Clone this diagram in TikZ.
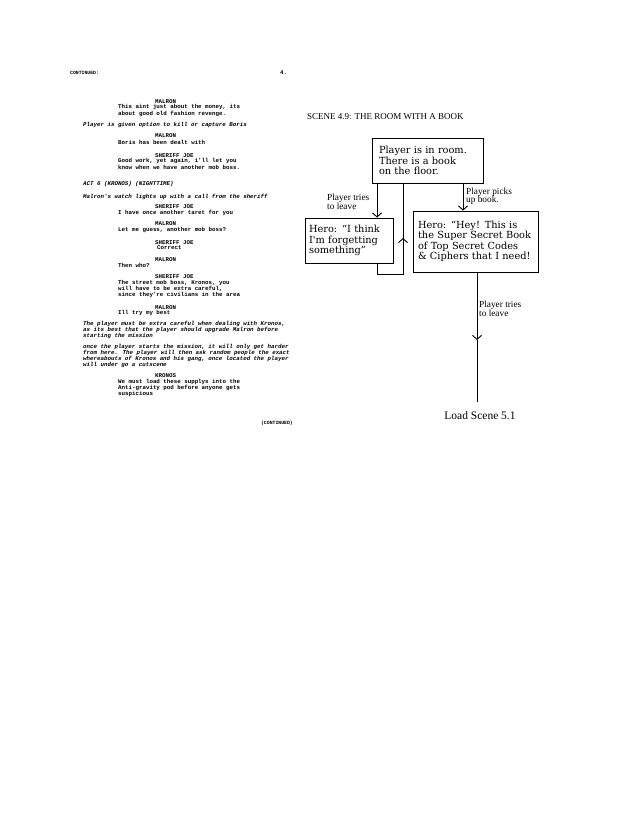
\documentclass[tikz,border=0pt]{standalone}
\usepackage{fontspec}
\setmainfont{Liberation Serif}
\newfontfamily\monofam{Liberation Mono}
\newfontfamily\boxfam{DejaVu Serif}
\usetikzlibrary{arrows.meta}

\tikzset{
  scr/.style={anchor=west,inner sep=0pt,font=\monofam\bfseries\fontsize{5.8}{6}\selectfont},
  act/.style={scr,font=\monofam\bfseries\itshape\fontsize{5.8}{6}\selectfont},
  who/.style={scr,font=\monofam\bfseries\fontsize{5.8}{6}\selectfont},
  box/.style={draw,line width=0.9pt,inner sep=0pt,font=\boxfam\fontsize{9.8}{10.5}\selectfont,align=left},
  lbl/.style={anchor=north west,inner sep=0pt,align=left,font=\fontsize{9.3}{8.6}\selectfont},
  flow/.style={line width=0.9pt},
  tip/.style={flow,-{Straight Barb[length=4pt,width=9pt]}}
}

\begin{document}
\begin{tikzpicture}[x=1pt,y=1pt,yscale=-1]
  \useasboundingbox (0,0) rectangle (638,826);

  % script page
  \node[scr,font=\monofam\bfseries\fontsize{4.8}{5}\selectfont] (cont) at (70,73) {CONTINUED:};
  \node[scr] (pg) at (280,73) {4.};
  \node[who] (n1) at (155,102) {MALRON};
  \node[scr] (d1) at (118,107) {This aint just about the money, its};
  \node[scr] (d2) at (118,114) {about good old fashion revenge.};
  \node[act] (a1) at (83,125) {Player is given option to kill or capture Boris};
  \node[who] (n2) at (155,136) {MALRON};
  \node[scr] (d3) at (118,142) {Boris has been dealt with};
  \node[who] (n3) at (155,156) {SHERIFF JOE};
  \node[scr] (d4) at (118,161) {Good work, yet again, i'll let you};
  \node[scr] (d5) at (118,167) {know when we have another mob boss.};
  \node[act] (a2) at (83,184) {ACT 6 (KRONOS) (NIGHTTIME)};
  \node[act] (a3) at (83,197) {Malron's watch lights up with a call from the sheriff};
  \node[who] (n4) at (155,207) {SHERIFF JOE};
  \node[scr] (d6) at (118,213) {I have once another taret for you};
  \node[who] (n5) at (155,224) {MALRON};
  \node[scr] (d7) at (118,230) {Let me guess, another mob boss?};
  \node[who] (n6) at (155,243) {SHERIFF JOE};
  \node[scr] (d8) at (157,248) {Correct};
  \node[who] (n7) at (155,260) {MALRON};
  \node[scr] (d9) at (118,265) {Then who?};
  \node[who] (n8) at (155,277) {SHERIFF JOE};
  \node[scr] (d10) at (118,283) {The street mob boss, Kronos, you};
  \node[scr] (d11) at (118,289) {will have to be extra careful,};
  \node[scr] (d12) at (118,295) {since they're civilians in the area};
  \node[who] (n9) at (155,308) {MALRON};
  \node[scr] (d13) at (118,313) {Ill try my best};
  \node[act] (a4) at (83,324) {The player must be extra careful when dealing with Kronos,};
  \node[act] (a5) at (83,330) {as its best that the player should upgrade Malron before};
  \node[act] (a6) at (83,336) {starting the mission};
  \node[act] (a7) at (83,347) {once the player starts the mission, it will only get harder};
  \node[act] (a8) at (83,353) {from here. The player will then ask random people the exact};
  \node[act] (a9) at (83,359) {whereabouts of Kronos and his gang, once located the player};
  \node[act] (a10) at (83,365) {will under go a cutscene};
  \node[who] (n10) at (155,376) {KRONOS};
  \node[scr] (d14) at (118,382) {We must load these supplys into the};
  \node[scr] (d15) at (118,388) {Anti-gravity pod before anyone gets};
  \node[scr] (d16) at (118,394) {suspicious};
  \node[scr,anchor=east,font=\monofam\bfseries\fontsize{4.8}{5}\selectfont] (cont2) at (293,423) {(CONTINUED)};

  % scene flow
  \node[anchor=west,inner sep=0pt,font=\fontsize{9}{10}\selectfont] (title) at (307,117) {SCENE 4.9: THE ROOM WITH A BOOK};
  \node[box,minimum width=111,minimum height=45,text width=97] (room) at (427.5,160.5) {Player is in room.\\There is a book\\on the floor.};
  \node[box,minimum width=88,minimum height=45,text width=80] (think) at (349,240.5) {Hero: “I think\\I'm forgetting\\something”};
  \node[box,minimum width=125,minimum height=61,text width=115] (book) at (475.5,241.5) {Hero: “Hey! This is\\the Super Secret Book\\of Top Secret Codes\\\& Ciphers that I need!};
  \node[anchor=north,inner sep=0pt,font=\fontsize{11.5}{12}\selectfont] (load) at (480,411) {Load Scene 5.1};

  \coordinate (leaveA) at (room.south -| 377,0);
  \coordinate (leaveB) at (think.north -| 377,0);
  \coordinate (backA) at (think.south -| 377,0);
  \coordinate (backB) at (377,274);
  \coordinate (backC) at (403,274);
  \coordinate (backD) at (403,240);
  \coordinate (backE) at (room.south -| 403,0);
  \coordinate (pickA) at (room.south -| 463,0);
  \coordinate (pickB) at (book.north -| 463,0);
  \coordinate (exitA) at (book.south -| 477,0);
  \coordinate (exitB) at (477,340);
  \coordinate (exitC) at (477,402);

  \draw[tip] (leaveA) -- (leaveB);
  \draw[flow] (backA) -- (backB) -- (backC) -- (backD);
  \draw[tip] (backD) -- ++(0,-2);
  \draw[flow] (backD) -- (backE);
  \draw[tip] (pickA) -- (pickB);
  \draw[tip] (exitA) -- (exitB);
  \draw[flow] (exitB) -- (exitC);

  \node[lbl] (tl1) at (327,194) {Player tries\\to leave};
  \node[lbl] (tl2) at (466,187.5) {Player picks\\up book.};
  \node[lbl] (tl3) at (479,301) {Player tries\\to leave};
\end{tikzpicture}
\end{document}
